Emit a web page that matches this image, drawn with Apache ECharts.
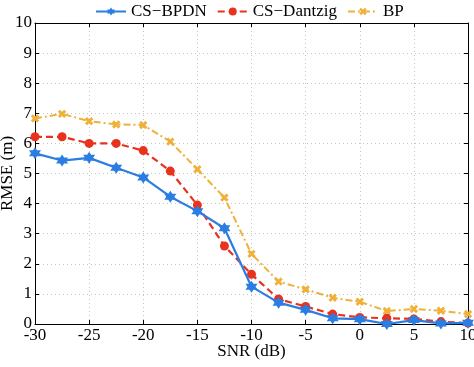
<!DOCTYPE html>
<html><head><meta charset="utf-8">
<script src="https://cdn.jsdelivr.net/npm/echarts@6/dist/echarts.min.js"></script>
<style>html,body{margin:0;padding:0;background:#fff}#c{width:474px;height:367px}</style>
</head><body><div id="c"></div>
<script>
var snr = [-30,-27.5,-25,-22.5,-20,-17.5,-15,-12.5,-10,-7.5,-5,-2.5,0,2.5,5,7.5,10];
var bpdn = [5.67,5.43,5.52,5.19,4.87,4.23,3.75,3.18,1.24,0.71,0.47,0.19,0.16,0.0,0.13,0.02,0.04];
var dantzig = [6.22,6.22,6.0,6.0,5.76,5.08,3.95,2.59,1.65,0.83,0.58,0.33,0.22,0.19,0.17,0.08,0.03];
var bp = [6.83,6.98,6.74,6.63,6.61,6.06,5.14,4.2,2.33,1.41,1.15,0.87,0.74,0.43,0.5,0.44,0.33];
var names = ['CS\u2212BPDN','CS\u2212Dantzig','BP'];

function pairs(v){return snr.map(function(x,i){return [x,v[i]];});}
var FONT = 'Liberation Serif';
var star = 'path://M0,-10 L2.9,-5 L8.66,-5 L5.8,0 L8.66,5 L2.9,5 L0,10 L-2.9,5 L-8.66,5 L-5.8,0 L-8.66,-5 L-2.9,-5 Z';
var cross = 'path://M-1.6,-5 L1.6,-5 L1.6,-1.6 L5,-1.6 L5,1.6 L1.6,1.6 L1.6,5 L-1.6,5 L-1.6,1.6 L-5,1.6 L-5,-1.6 L-1.6,-1.6 Z';
var tick = {show:true,inside:true,length:4,lineStyle:{color:'#000'}};
var aline = {show:true,onZero:false,lineStyle:{color:'#000',width:1}};
var grid = {show:true,lineStyle:{color:'#c4c4c4',width:1,type:[1,3]}};
var lab = {fontFamily:FONT,fontSize:17,color:'#000',margin:3};
var chart = echarts.init(document.getElementById('c'));
chart.setOption({
  animation:false,
  backgroundColor:'#fff',
  legend:{top:3,left:95,padding:0,itemWidth:30,itemHeight:10,itemGap:10,
    textStyle:{fontFamily:FONT,fontSize:17,color:'#000'},data:names},
  grid:{left:35,right:6,top:23,bottom:43,outerBoundsMode:'none',containLabel:false},
  xAxis:[
    {type:'value',min:-30,max:10,interval:5,position:'bottom',
      name:'SNR (dB)',nameLocation:'middle',nameGap:19,nameMoveOverlap:false,
      nameTextStyle:{fontFamily:FONT,fontSize:17,color:'#000'},
      axisLine:aline,axisTick:tick,axisLabel:lab,splitLine:grid},
    {type:'value',min:-30,max:10,interval:5,position:'top',
      axisLine:aline,axisTick:tick,axisLabel:{show:false},splitLine:{show:false}}
  ],
  yAxis:[
    {type:'value',min:0,max:10,interval:1,position:'left',
      name:'RMSE (m)',nameLocation:'middle',nameGap:19,nameRotate:90,nameMoveOverlap:false,
      nameTextStyle:{fontFamily:FONT,fontSize:17,color:'#000'},
      axisLine:aline,axisTick:tick,axisLabel:lab,splitLine:grid},
    {type:'value',min:0,max:10,interval:1,position:'right',
      axisLine:aline,axisTick:tick,axisLabel:{show:false},splitLine:{show:false}}
  ],
  series:[
    {name:names[0],type:'line',data:pairs(bpdn),symbol:star,symbolSize:12,
      lineStyle:{color:'#2a7de1',width:2.2},itemStyle:{color:'#2a7de1'},z:5},
    {name:names[1],type:'line',data:pairs(dantzig),symbol:'circle',symbolSize:9,
      lineStyle:{color:'#e8321e',width:2.2,type:[7,4]},itemStyle:{color:'#e8321e'},z:4},
    {name:names[2],type:'line',data:pairs(bp),symbol:cross,symbolSize:9,symbolRotate:45,
      lineStyle:{color:'#efb13a',width:2,type:[7,3,2,3]},itemStyle:{color:'#efb13a'},z:3}
  ]
});
</script></body></html>
